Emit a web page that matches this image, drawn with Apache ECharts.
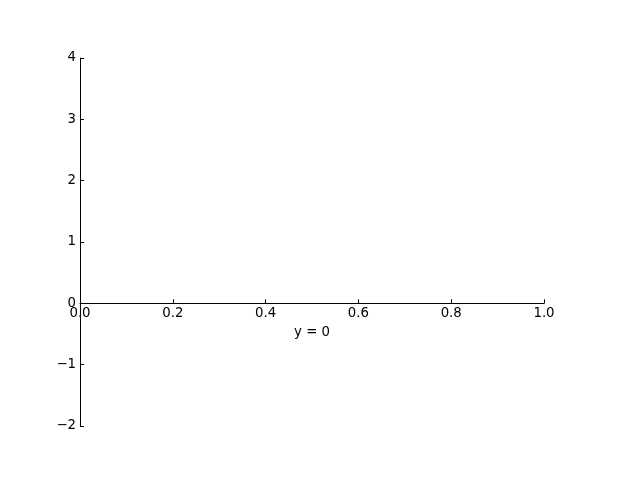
<!DOCTYPE html>
<html>
<head>
<meta charset="utf-8">
<script src="https://cdn.jsdelivr.net/npm/echarts@6/dist/echarts.min.js"></script>
<style>html,body{margin:0;padding:0;background:#fff}#c{width:640px;height:480px}</style>
</head>
<body>
<div id="c"></div>
<script>
var xRange = [0, 1];
var xStep = 0.2;
var yRange = [-2, 4];
var yStep = 1;
var xLabel = 'y = 0';
var seriesData = [];

var chart = echarts.init(document.getElementById('c'), null, {renderer: 'canvas'});
var font = 'DejaVu Sans';
var fs = 13.3;
var gridTop = 58, gridBottom = 54;
var plotH = 480 - gridTop - gridBottom;
// place x axis at y = 0 (spine at data zero)
var zeroOffset = -(0 - yRange[0]) / (yRange[1] - yRange[0]) * plotH;
chart.setOption({
  animation: false,
  backgroundColor: '#ffffff',
  grid: {left: 80, right: 96, top: gridTop, bottom: gridBottom, containLabel: false},
  xAxis: {
    type: 'value', min: xRange[0], max: xRange[1], interval: xStep,
    offset: zeroOffset,
    name: xLabel, nameLocation: 'middle', nameGap: 23,
    nameTextStyle: {color: '#000', fontFamily: font, fontSize: fs},
    axisLine: {show: true, onZero: false, lineStyle: {color: '#000', width: 1}},
    axisTick: {show: true, inside: true, length: 4, lineStyle: {color: '#000'}},
    axisLabel: {color: '#000', fontFamily: font, fontSize: fs, margin: 4,
      formatter: function (v) { return v.toFixed(1); }},
    splitLine: {show: false}
  },
  yAxis: {
    type: 'value', min: yRange[0], max: yRange[1], interval: yStep,
    axisLine: {show: true, onZero: false, lineStyle: {color: '#000', width: 1}},
    axisTick: {show: true, inside: true, length: 4, lineStyle: {color: '#000'}},
    axisLabel: {color: '#000', fontFamily: font, fontSize: fs, margin: 4,
      formatter: function (v) { return v < 0 ? '\u2212' + Math.abs(v) : String(v); }},
    splitLine: {show: false}
  },
  series: [{type: 'line', data: seriesData, showSymbol: false}]
});
</script>
</body>
</html>
